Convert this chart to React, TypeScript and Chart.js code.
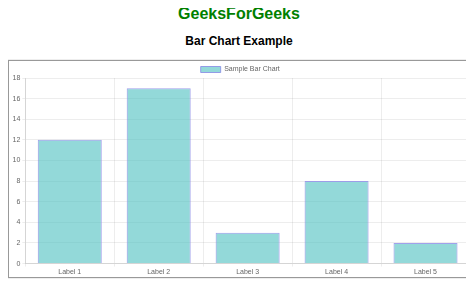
import React, { useEffect, useRef } from "react";
import { Chart, registerables } from "chart.js";

Chart.register(...registerables);

const categories = ["Label 1", "Label 2", "Label 3", "Label 4", "Label 5"];
const seriesName = "Sample Bar Chart";
const values = [12, 17, 3, 8, 2];
const yMax = 18;
const yStep = 2;

const FONT = "'Liberation Sans', Arial, Helvetica, sans-serif";

const legendTighten = {
  id: "legendTighten",
  afterInit(chart: any) {
    const legend = chart.legend;
    if (!legend) return;
    const origFit = legend.fit;
    legend.fit = function () {
      origFit.call(this);
      this.height -= 5;
    };
  },
};

export default function App() {
  const ref = useRef<HTMLCanvasElement | null>(null);
  useEffect(() => {
    if (!ref.current) return;
    const chart = new Chart(ref.current, {
      type: "bar",
      data: {
        labels: categories,
        datasets: [
          {
            label: seriesName,
            data: values,
            backgroundColor: "rgba(75, 192, 192, 0.6)",
            borderColor: "rgba(130, 130, 230, 0.75)",
            borderWidth: 1,
          },
        ],
      },
      plugins: [legendTighten],
      options: {
        responsive: false,
        maintainAspectRatio: false,
        animation: false,
        layout: { padding: { left: 1.5, right: 0, top: 3, bottom: 0 } },
        plugins: {
          legend: {
            display: true,
            labels: {
              boxWidth: 20,
              boxHeight: 6,
              padding: 2,
              color: "#666",
              font: { family: FONT, size: 7 },
            },
          },
          tooltip: { enabled: false },
        },
        scales: {
          x: {
            grid: { color: "rgba(0,0,0,0.07)", tickLength: 3 },
            ticks: { color: "#666", font: { family: FONT, size: 7 }, padding: 1 },
          },
          y: {
            beginAtZero: true,
            max: yMax,
            grid: { color: "rgba(0,0,0,0.07)", tickLength: 3 },
            ticks: { stepSize: yStep, color: "#666", font: { family: FONT, size: 7 }, padding: 2 },
          },
        },
      },
    });
    return () => chart.destroy();
  }, []);

  return (
    <div style={{ position: "relative", width: 458, height: 278, fontFamily: FONT }}>
      <div
        style={{
          position: "absolute",
          top: -2,
          left: 0,
          width: 462,
          textAlign: "center",
          color: "#008000",
          fontWeight: "bold",
          fontSize: 16,
          lineHeight: "16px",
        }}
      >
        GeeksForGeeks
      </div>
      <div
        style={{
          position: "absolute",
          top: 27,
          left: 0,
          width: 462,
          textAlign: "center",
          color: "#000",
          fontWeight: "bold",
          fontSize: 12,
          lineHeight: "12px",
        }}
      >
        Bar Chart Example
      </div>
      <div
        style={{
          position: "absolute",
          top: 52,
          left: 0,
          width: 461,
          height: 216,
          border: "1px solid #999",
          boxShadow: "0 0 1px #999",
          overflow: "hidden",
        }}
      >
        <canvas ref={ref} width={461} height={216} style={{ display: "block" }} />
      </div>
    </div>
  );
}
